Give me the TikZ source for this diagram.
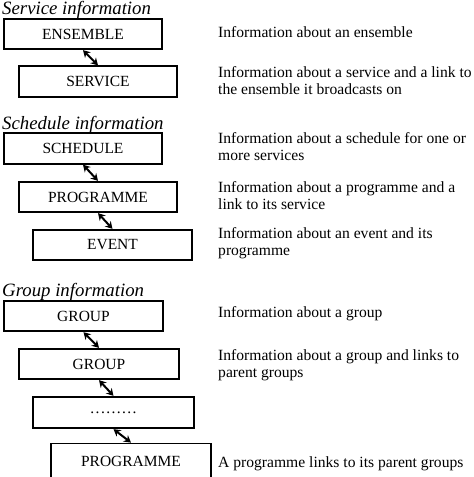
\documentclass[tikz,border=0pt]{standalone}
\usepackage{fontspec}
\setmainfont{Liberation Serif}
\usetikzlibrary{arrows.meta}
\begin{document}
\begin{tikzpicture}[x=1pt,y=-1pt,
  box/.style={draw,line width=1.8pt,minimum width=158.5pt,minimum height=30.5pt,inner sep=0pt,
    font=\fontsize{15.5}{17.5}\selectfont},
  title/.style={anchor=base west,inner sep=0pt,font=\fontsize{18.8}{20}\selectfont\itshape},
  desc/.style={anchor=base west,inner sep=0pt,font=\fontsize{15.6}{17.5}\selectfont},
  link/.style={line width=2pt,{Stealth[length=7pt,width=8pt]}-{Stealth[length=7pt,width=8pt]}}]
\useasboundingbox (0,0) rectangle (474,477);
\clip (0,0) rectangle (474,477);
% titles
\node[title] (t1) at (2,14) {Service information};
\node[title] (t2) at (2,129) {Schedule information};
\node[title] (t3) at (2,296) {Group information};
% boxes
\node[box] (b1) at (83,34) {ENSEMBLE};
\node[box] (b2) at (98,81.5) {SERVICE};
\node[box] (b3) at (83,148.5) {SCHEDULE};
\node[box] (b4) at (98,197) {PROGRAMME};
\node[box] (b5) at (112.5,245) {EVENT};
\node[box] (b6) at (83.5,316) {GROUP};
\node[box,minimum width=160pt] (b7) at (99,364) {GROUP};
\node[box,minimum width=161pt,minimum height=31.5pt] (b8) at (113.5,412.5) {{\addfontfeature{LetterSpace=9}.........}};
\node[box,minimum width=160pt,minimum height=38pt,text depth=0pt] (b9) at (131,462.5) {\raisebox{3pt}{PROGRAMME}};
% links
\draw[link] (b1.south) -- (b2.north);
\draw[link] (b3.south) -- (b4.north);
\draw[link] (b4.south) -- (b5.north);
\draw[link] (b6.south) -- (b7.north);
\draw[link] (b7.south) -- (b8.north);
\draw[link] (b8.south) -- (b9.north);
% descriptions
\node[desc] (d1) at (218,37) {Information about an ensemble};
\node[desc] (d2) at (218,77) {\begin{tabular}[t]{@{}l@{}}Information about a service and a link to\\the ensemble it broadcasts on\end{tabular}};
\node[desc] (d3) at (218,143) {\begin{tabular}[t]{@{}l@{}}Information about a schedule for one or\\more services\end{tabular}};
\node[desc] (d4) at (218,192) {\begin{tabular}[t]{@{}l@{}}Information about a programme and a\\link to its service\end{tabular}};
\node[desc] (d5) at (218,238) {\begin{tabular}[t]{@{}l@{}}Information about an event and its\\programme\end{tabular}};
\node[desc] (d6) at (218,317) {Information about a group};
\node[desc] (d7) at (218,360) {\begin{tabular}[t]{@{}l@{}}Information about a group and links to\\parent groups\end{tabular}};
\node[desc] (d8) at (218,467) {A programme links to its parent groups};
\end{tikzpicture}
\end{document}
